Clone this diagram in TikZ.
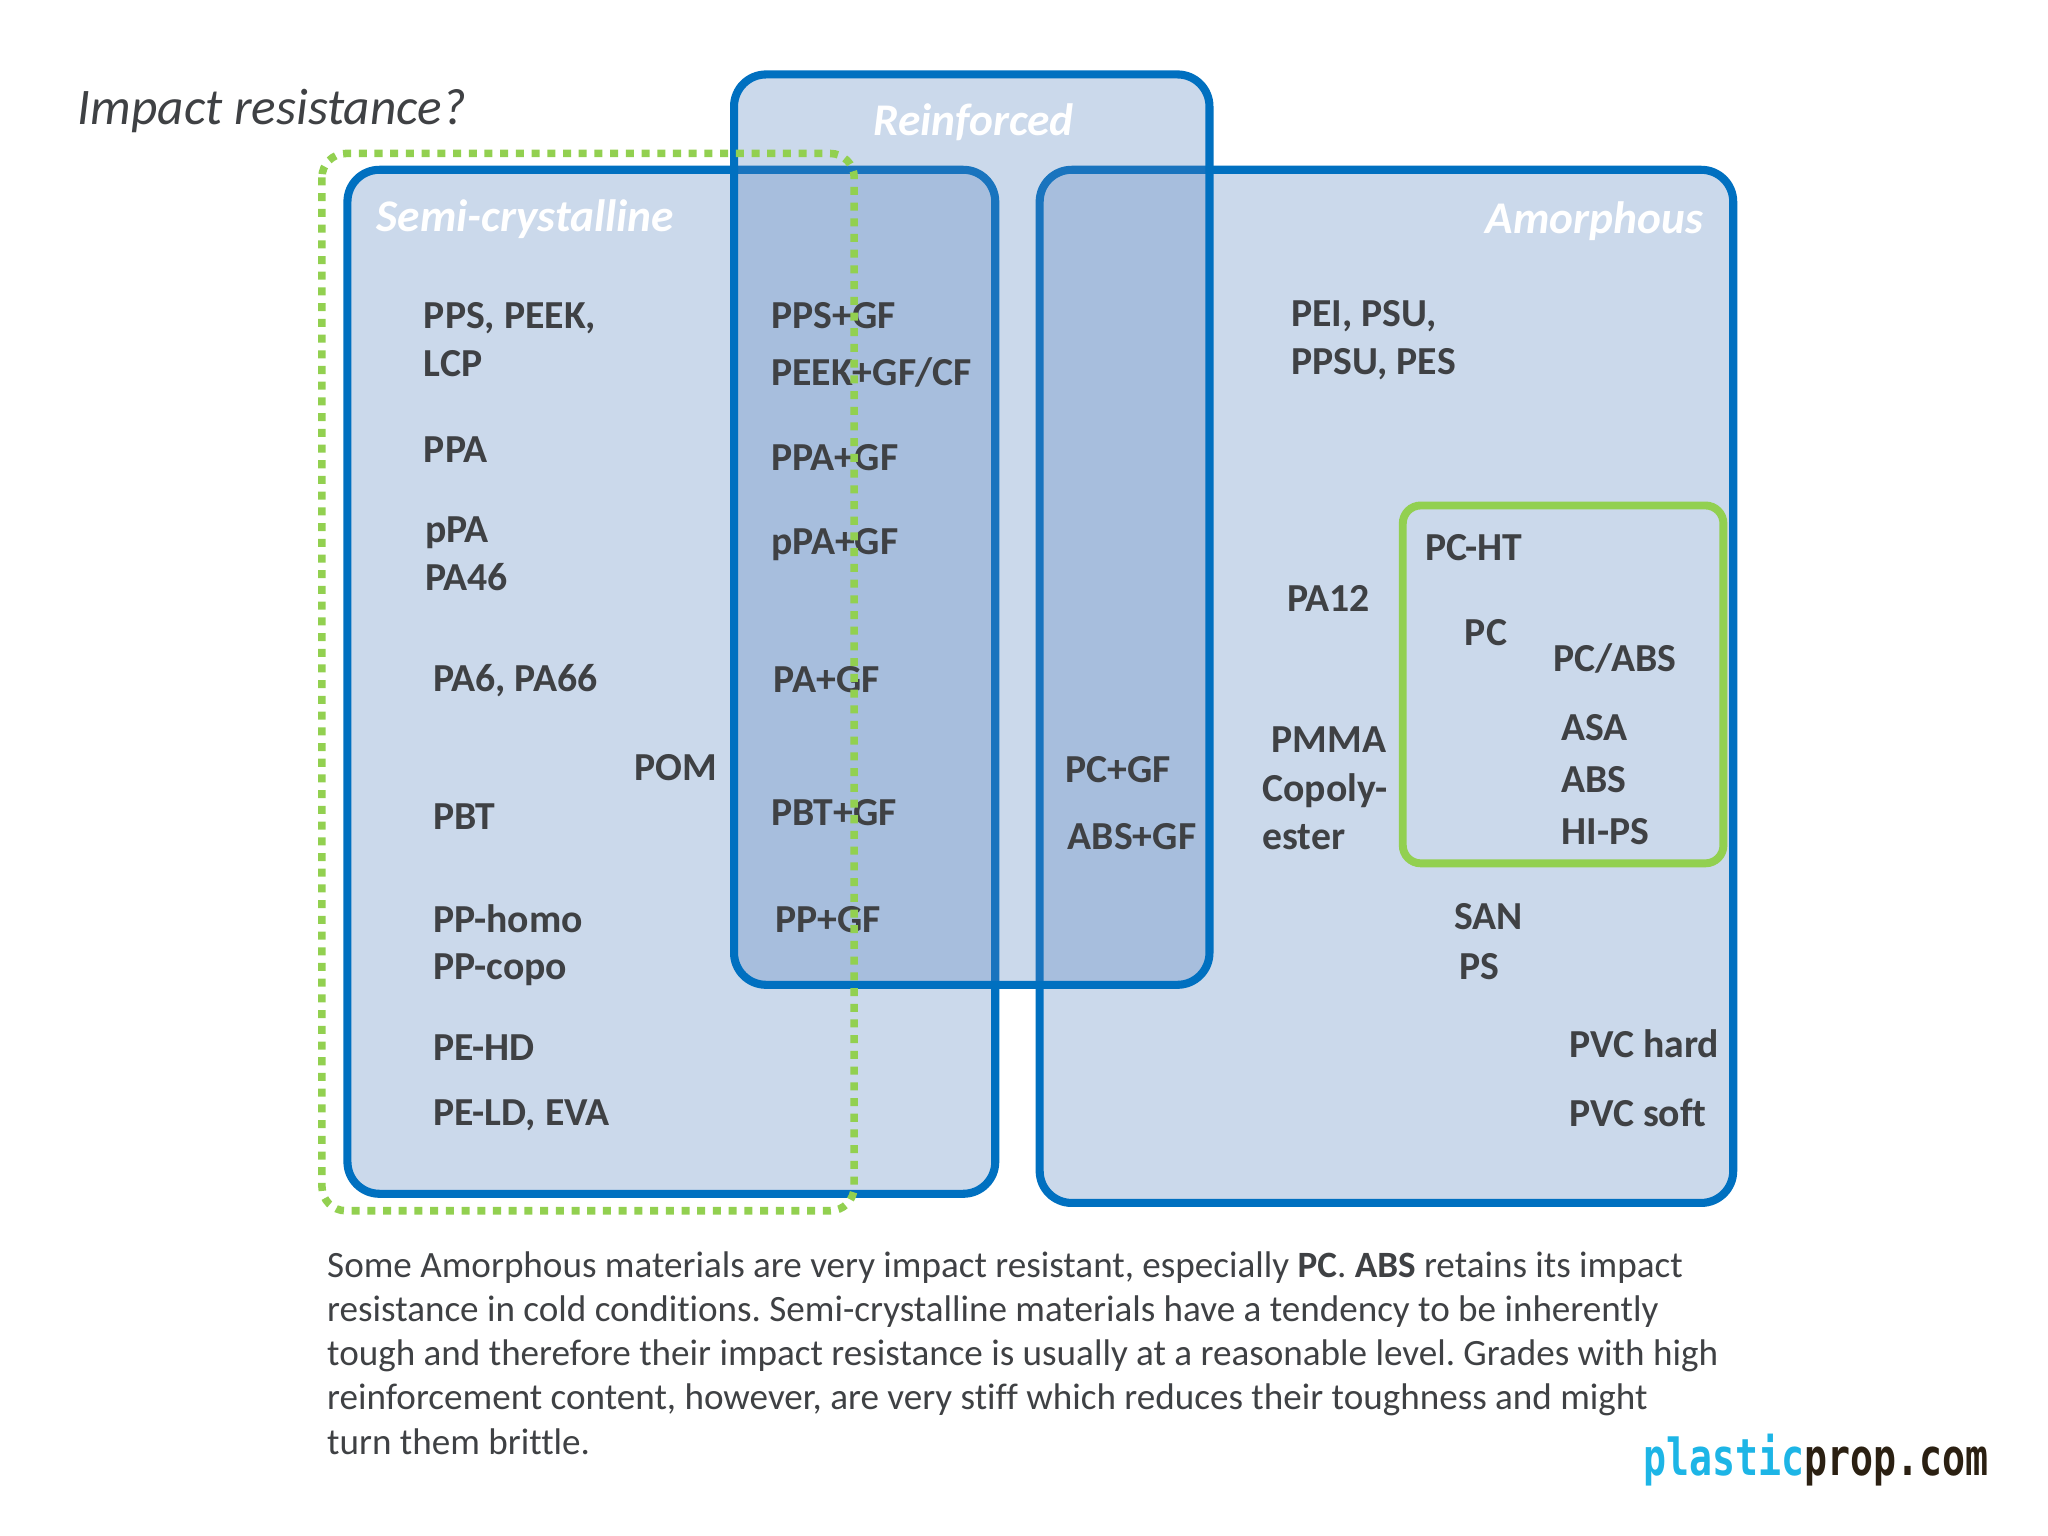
\documentclass[tikz,border=0pt]{standalone}
\usepackage{fontspec}
\setmainfont[RawFeature=-liga]{Carlito}
\newfontfamily\logofont{DejaVu Sans Mono}
\usepackage{xcolor}
\usetikzlibrary{positioning}
\definecolor{frameblue}{HTML}{0070C0}
\definecolor{fillblue}{RGB}{83,128,188}
\definecolor{framegreen}{HTML}{92D050}
\definecolor{textgrey}{HTML}{3F4144}
\definecolor{logoblue}{HTML}{1DB5E6}
\definecolor{logobrown}{HTML}{2B2012}
\frenchspacing

\begin{document}
\begin{tikzpicture}[
    x=0.013061cm, y=-0.013061cm,
    family/.style={draw=frameblue, line width=2.3pt, rounded corners=0.32cm, fill=fillblue, fill opacity=0.3, draw opacity=1},
    toughzone/.style={draw=framegreen, line width=2.25pt, rounded corners=0.18cm},
    dotzone/.style={toughzone, line width=2.15pt, rounded corners=0.24cm, dash pattern=on 2.28pt off 2.19pt},
    header/.style={anchor=west, inner sep=0pt, text=white, font=\fontsize{12.9}{15}\selectfont\bfseries\itshape},
    grade/.style={anchor=west, inner sep=0pt, align=left, text=textgrey, font=\fontsize{11.3}{13.5}\selectfont\bfseries}
]
    \useasboundingbox (0,0) rectangle (1568,1176);

    \node[anchor=west, inner sep=0pt, text=textgrey, font=\fontsize{14.6}{17}\selectfont\itshape] (title) at (59,85) {Impact resistance?};

    % the three families
    \draw[family] (266,130) rectangle (762,914);
    \draw[family] (796,130) rectangle (1327,921);
    \draw[family] (562,57) rectangle (926,754);

    \node[header] (semi) at (288,168) {Semi-crystalline};
    \node[header] (reinf) at (668,93.5) {Reinforced};
    \node[header] (amorph) at (1137,169) {Amorphous};

    % semi-crystalline
    \node[grade] (pps) at (324,260) {PPS, PEEK,\\LCP};
    \node[grade] (ppa) at (324,344) {PPA};
    \node[grade] (ppa2) at (325,424) {pPA\\PA46};
    \node[grade] (pa6) at (331,521) {PA6, PA66};
    \node[grade] (pom) at (485,588) {POM};
    \node[grade] (pbt) at (331,625) {PBT};
    \node[grade] (pp) at (331,723.5) {PP-homo\\PP-copo};
    \node[grade] (pehd) at (331,802) {PE-HD};
    \node[grade] (peld) at (331,854) {PE-LD, EVA};

    % reinforced
    \node[grade] (ppsgf) at (590,242) {PPS+GF};
    \node[grade] (peekgf) at (590,285) {PEEK+GF/CF};
    \node[grade] (ppagf) at (590,350) {PPA+GF};
    \node[grade] (ppa2gf) at (590,417) {pPA+GF};
    \node[grade] (pagf) at (592,520) {PA+GF};
    \node[grade] (pbtgf) at (590,622) {PBT+GF};
    \node[grade] (ppgf) at (593,704) {PP+GF};
    \node[grade] (pcgf) at (815,589.5) {PC+GF};
    \node[grade] (absgf) at (817,640.5) {ABS+GF};

    % amorphous
    \node[grade] (pei) at (988,260.5) {PEI, PSU,\\PPSU, PES};
    \node[grade] (pa12) at (985,458) {PA12};
    \node[grade] (pmma) at (973,566) {PMMA};
    \node[grade] (copoly) at (966,621.5) {Copoly-\\ester};
    \node[grade] (pcht) at (1091,419) {PC-HT};
    \node[grade] (pc) at (1121,484) {PC};
    \node[grade] (pcabs) at (1189,504) {PC/ABS};
    \node[grade] (asa) at (1195,557) {ASA};
    \node[grade] (abs) at (1195,597) {ABS};
    \node[grade] (hips) at (1195,637) {HI-PS};
    \node[grade] (san) at (1113,702) {SAN};
    \node[grade] (ps) at (1117,740) {PS};
    \node[grade] (pvch) at (1201,799) {PVC hard};
    \node[grade] (pvcs) at (1201,852) {PVC soft};

    % tough materials
    \draw[dotzone] (246.5,117.5) rectangle (654,927);
    \draw[toughzone] (1074,387) rectangle (1319.5,661);

    \node[anchor=north west, inner sep=0pt, align=left, text=textgrey, font=\fontsize{10.56}{12.6}\selectfont] (note) at (250,957.5) {Some Amorphous materials are very impact resistant, especially \textbf{PC}. \textbf{ABS} retains its impact\\resistance in cold conditions. Semi-crystalline materials have a tendency to be inherently\\tough and therefore their impact resistance is usually at a reasonable level. Grades with high\\reinforcement content, however, are very stiff which reduces their toughness and might\\turn them brittle.};

    \node[anchor=west, inner sep=0pt, font=\logofont\fontsize{14.5}{16}\selectfont\bfseries] (logo) at (1258,1118) {\scalebox{.75}[1]{\textcolor{logoblue}{plastic}\textcolor{logobrown}{prop.com}}};
\end{tikzpicture}
\end{document}
